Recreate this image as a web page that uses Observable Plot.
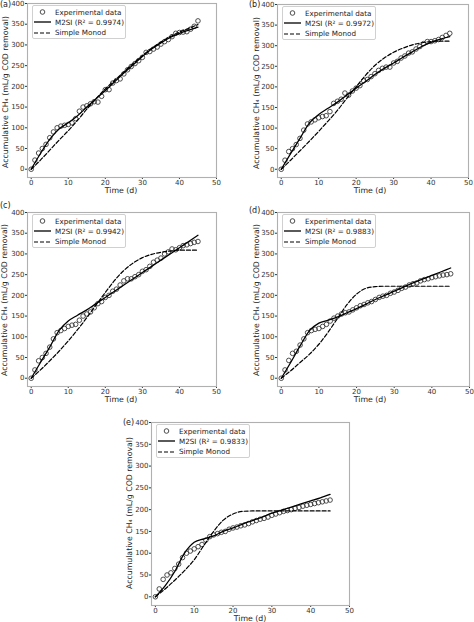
<!DOCTYPE html>
<html><head><meta charset="utf-8">
<script src="https://cdn.jsdelivr.net/npm/d3@7"></script>
<script src="https://cdn.jsdelivr.net/npm/@observablehq/plot@0.6"></script>
<style>
body{margin:0;background:#fff;font-family:"DejaVu Sans",sans-serif;}
#root{position:relative;width:474px;height:622px;overflow:hidden;background:#fff;}
.ylab{position:absolute;font-size:7.8px;color:#222;white-space:nowrap;transform:translate(-50%,-50%) rotate(-90deg);}
.xlab{position:absolute;font-size:7.8px;color:#222;white-space:nowrap;transform:translate(-50%,-50%);}
.plab{position:absolute;font-size:8px;line-height:9px;color:#222;white-space:nowrap;}
.legend{position:absolute;background:#fff;border:1px solid #d0d0d0;border-radius:2px;font-size:7.2px;color:#222;box-sizing:border-box;padding-top:1px;}
.legend .row{display:flex;align-items:center;height:10.3px;white-space:nowrap;}
.legend svg{display:block;margin:0 4px 0 1px;}
</style></head><body><div id="root"></div>
<script>
// ---- shared axes ----
const xTicks = [0, 10, 20, 30, 40, 50];
const yTicks = [0, 50, 100, 150, 200, 250, 300, 350, 400];
const xLabel = "Time (d)";
const yLabel = "Accumulative CH₄ (mL/g COD removal)";
const seriesNames = ["Experimental data", "M2SI", "Simple Monod"];

// experimental sampling days
const days = [0,1,2,3,4,5,6,7,8,9,10,11,12,13,14,15,16,17,18,19,20,21,22,23,24,25,26,27,28,29,30,31,32,33,34,35,36,37,38,39,40,41,42,43,44,45];
// model curve knots
const modelDays = [0,2.5,5,7.5,10,12.5,15,17.5,20,22.5,25,27.5,30,32.5,35,37.5,40,42.5,45];

// ---- panel (a) ----
const expA = [0,22,39,50,60,76,90,100,104,106,108,112,122,140,150,153,158,163,162,176,192,192,208,214,218,230,240,248,255,262,270,282,284,290,295,302,308,313,320,328,330,331,332,338,345,358];
const m2siA = [0,38,72,97,112,129,150,170,190,211,232,252,272,290,305,318,328,336,343];
const monodA = [0,22,46,70,93,118,145,170,194,214,235,255,274,292,307,320,331,340,349];
const r2A = "0.9974";

// ---- panel (b) ----
const expB = [0,22,43,50,60,75,95,110,115,120,125,128,130,140,160,165,170,185,180,190,197,203,215,218,225,232,240,245,248,248,258,262,270,275,282,285,292,298,305,310,310,312,315,320,325,330];
const m2siB = [0,38,75,112,133,148,163,180,197,213,230,245,258,272,285,298,308,316,322];
const monodB = [0,22,45,68,92,117,143,172,200,228,252,270,284,294,302,307,310,311,311];
const r2B = "0.9972";

// ---- panel (c) ----
const expC = [0,20,42,50,60,75,95,110,115,120,125,128,130,140,150,155,160,170,180,185,195,200,210,215,225,235,240,240,245,250,258,262,270,280,285,290,300,305,312,310,315,320,322,325,328,330];
const m2siC = [0,38,75,115,138,152,165,180,195,210,225,240,255,270,285,300,315,330,345];
const monodC = [0,20,42,65,90,117,146,177,207,236,260,278,291,299,304,307,309,309,309];
const r2C = "0.9942";

// ---- panel (d) ----
const expD = [0,20,43,60,65,80,95,110,115,118,120,125,130,138,145,150,155,158,160,165,170,175,178,182,185,190,195,198,200,205,208,212,217,220,225,228,230,235,238,240,243,245,247,249,250,252];
const m2siD = [0,38,78,115,133,140,148,158,168,179,190,200,210,220,230,239,248,257,266];
const monodD = [0,18,38,58,82,112,145,178,203,217,221,222,222,222,222,222,222,222,222];
const r2D = "0.9883";

// ---- panel (e) ----
const expE = [0,18,40,50,55,65,75,90,100,105,110,115,120,130,138,142,145,148,150,155,158,160,163,165,168,172,175,178,180,183,187,190,193,196,198,200,203,205,208,210,212,214,216,218,220,222];
const m2siE = [0,25,58,100,125,133,140,150,158,167,175,183,192,199,206,213,220,227,235];
const monodE = [0,18,38,60,85,118,150,176,190,196,197,197,197,197,197,197,197,197,197];
const r2E = "0.9833";

const panels = [
  {tag:"(a)", exp:expA, m2si:m2siA, monod:monodA, r2:r2A, fl:27, fr:216, ft:3, fb:177, yl:[5,92], xl:[121,190], pl:[0,0]},
  {tag:"(b)", exp:expB, m2si:m2siB, monod:monodB, r2:r2B, fl:277, fr:468, ft:4, fb:177, yl:[256,93], xl:[370,190], pl:[249,0]},
  {tag:"(c)", exp:expC, m2si:m2siC, monod:monodC, r2:r2C, fl:27, fr:216, ft:212, fb:386, yl:[4,300], xl:[121,399], pl:[0,201]},
  {tag:"(d)", exp:expD, m2si:m2siD, monod:monodD, r2:r2D, fl:277, fr:469, ft:212, fb:386, yl:[256,300], xl:[370,399], pl:[249,206]},
  {tag:"(e)", exp:expE, m2si:m2siE, monod:monodE, r2:r2E, fl:151, fr:349, ft:422, fb:605, yl:[129,513], xl:[250,618], pl:[123,418]}
];

const root = document.getElementById("root");
const mL = 30, mR = 4, mT = 2, mB = 14;

function el(cls, html, x, y) {
  const d = document.createElement("div");
  d.className = cls; d.innerHTML = html;
  d.style.left = x + "px"; d.style.top = y + "px";
  root.appendChild(d);
  return d;
}

for (const p of panels) {
  const expData = days.map((d, i) => ({t: d, v: p.exp[i]}));
  const m2siData = modelDays.map((d, i) => ({t: d, v: p.m2si[i]}));
  const monodData = modelDays.map((d, i) => ({t: d, v: p.monod[i]}));
  const w = (p.fr - p.fl) + mL + mR;
  const h = (p.fb - p.ft) + mT + mB;
  const svg = Plot.plot({
    width: w, height: h,
    marginLeft: mL, marginRight: mR, marginTop: mT, marginBottom: mB,
    style: {fontFamily: "DejaVu Sans", fontSize: "7px", color: "#333", background: "transparent", overflow: "visible"},
    x: {domain: [-1, 50], ticks: xTicks, label: null, tickSize: 2, tickPadding: 0.5},
    y: {domain: [-20, 400], ticks: yTicks, label: null, tickSize: 2, tickPadding: 1},
    marks: [
      Plot.frame({stroke: "#b0b0b0", strokeWidth: 1.1}),
      Plot.dot(expData, {x: "t", y: "v", r: 2.3, stroke: "#3a3a3a", fill: "none", strokeWidth: 0.9}),
      Plot.line(m2siData, {x: "t", y: "v", curve: "monotone-x", stroke: "#000", strokeWidth: 1.3}),
      Plot.line(monodData, {x: "t", y: "v", curve: "monotone-x", stroke: "#000", strokeWidth: 1.2, strokeDasharray: "4,2"})
    ]
  });
  svg.style.position = "absolute";
  svg.style.left = (p.fl - mL) + "px";
  svg.style.top = (p.ft - mT) + "px";
  root.appendChild(svg);

  el("ylab", yLabel, p.yl[0], p.yl[1]);
  el("xlab", xLabel, p.xl[0], p.xl[1]);
  el("plab", p.tag, p.pl[0], p.pl[1]);

  const circ = '<svg width="17" height="8"><circle cx="8.5" cy="4" r="2.3" fill="none" stroke="#3a3a3a" stroke-width="0.9"/></svg>';
  const solid = '<svg width="17" height="8"><line x1="0" y1="4" x2="17" y2="4" stroke="#000" stroke-width="1.3"/></svg>';
  const dash = '<svg width="17" height="8"><line x1="0" y1="4" x2="17" y2="4" stroke="#000" stroke-width="1.2" stroke-dasharray="4,2"/></svg>';
  const lg = el("legend",
    `<div class="row">${circ}<span>${seriesNames[0]}</span></div>` +
    `<div class="row">${solid}<span>${seriesNames[1]} (R² = ${p.r2})</span></div>` +
    `<div class="row">${dash}<span>${seriesNames[2]}</span></div>`,
    p.fl + 5, p.ft + 2);
  lg.style.width = "94px";
  lg.style.height = "34px";
}
</script></body></html>
